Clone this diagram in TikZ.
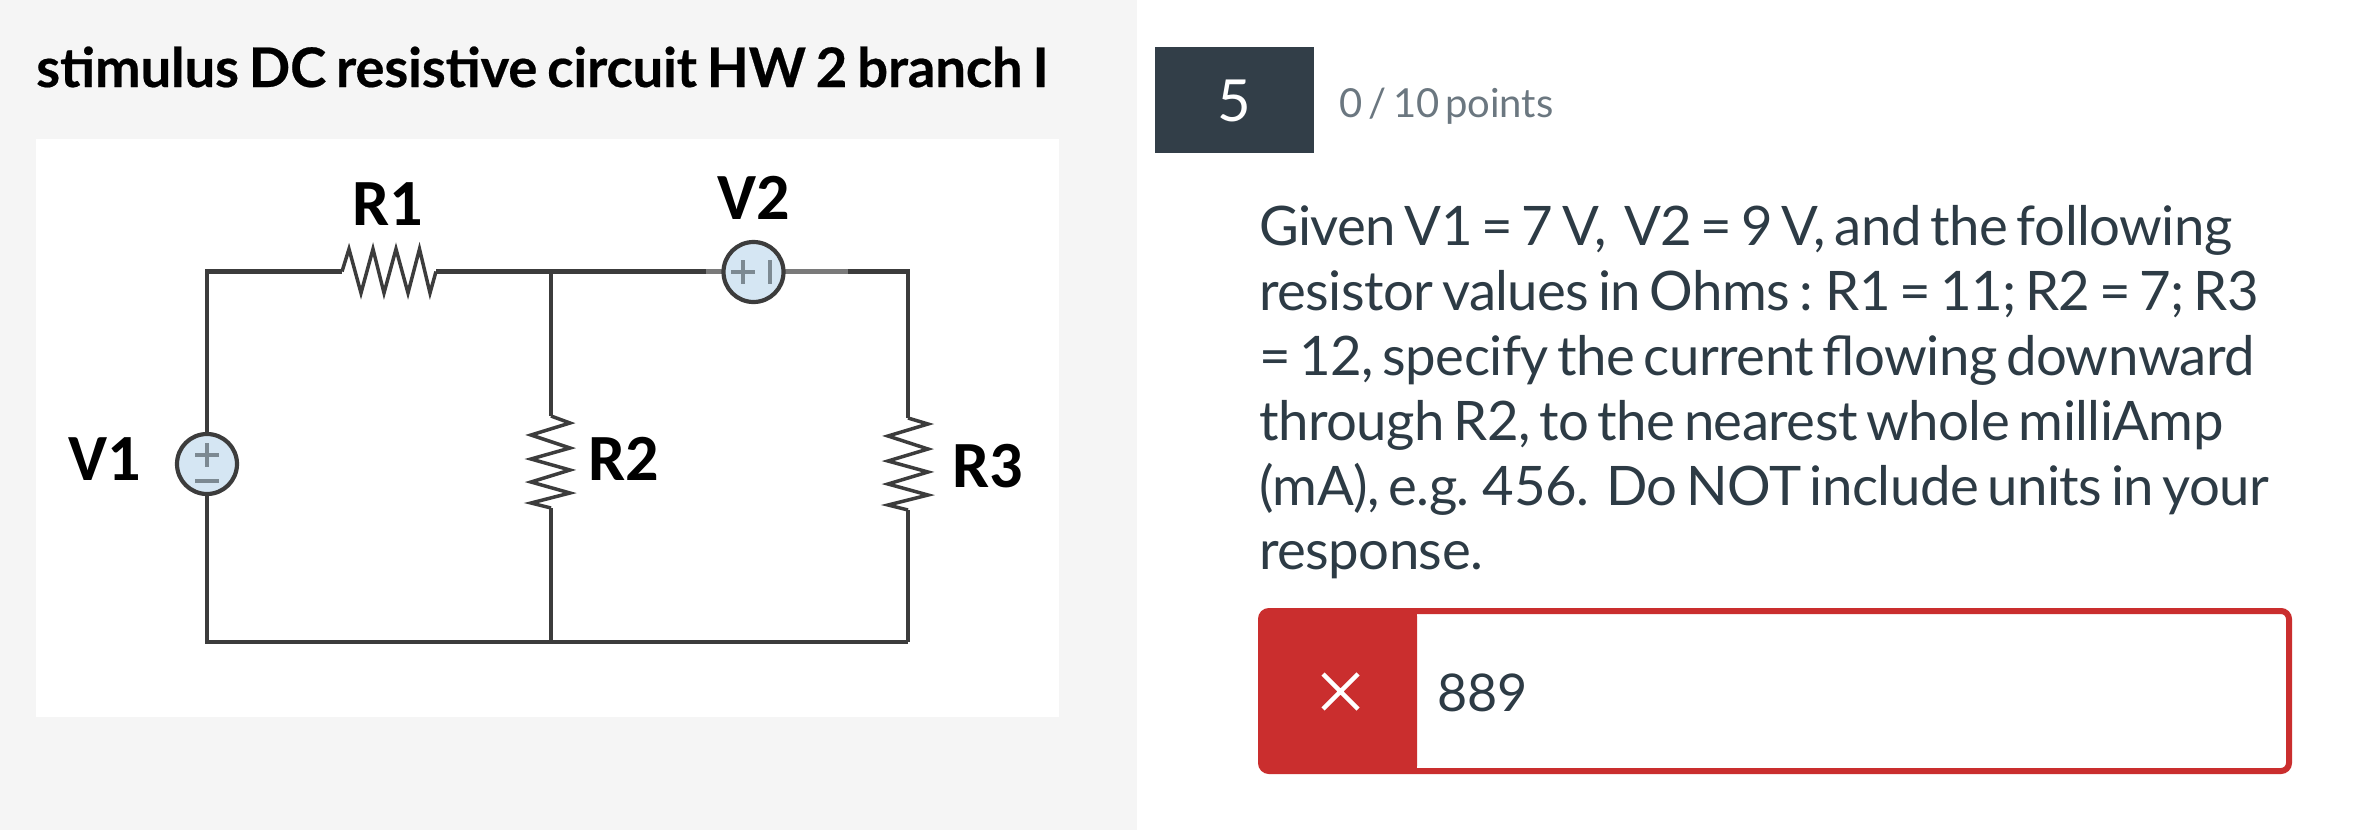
\documentclass[tikz,border=0pt]{standalone}
\usepackage{fontspec}
\setmainfont{Lato}
\newfontfamily\calib{Carlito}[Ligatures=TeX]
\newfontfamily\bodyf{Lato}[WordSpace=0.65,LetterSpace=-1.0]
\newfontfamily\titlef{Lato}[WordSpace=0.75,LetterSpace=-0.3,FakeBold=0.4]
\newfontfamily\ptsf{Lato}[WordSpace=0.6,LetterSpace=-0.3]
\definecolor{pagegray}{HTML}{F5F5F5}
\definecolor{ink}{HTML}{2D3B45}
\definecolor{boxdark}{HTML}{323E48}
\definecolor{muted}{HTML}{6B7780}
\definecolor{wrong}{HTML}{CA2E2E}
\definecolor{wire}{HTML}{3C3C3C}
\definecolor{wirelight}{HTML}{7A7A7A}
\definecolor{srcfill}{HTML}{D5E6F3}
\definecolor{srcmark}{HTML}{7C8992}
\tikzset{
  x=1pt,y=-1pt,
  wirest/.style={draw=wire,line width=4.5pt,line join=miter},
  zig/.style={draw=wire,line width=3.5pt,line join=miter},
  thinwire/.style={draw=wirelight,line width=4.5pt},
  src/.style={circle,draw=wire,fill=srcfill,line width=4.2pt,minimum size=60pt,inner sep=0pt},
  srcsign/.style={draw=srcmark,line width=3.5pt},
  clabel/.style={anchor=base,font=\calib\bfseries\fontsize{66}{66}\selectfont,text=black,inner sep=0pt},
  body/.style={anchor=base west,font=\bodyf\fontsize{54.5}{64}\selectfont,text=ink,inner sep=0pt},
}
\begin{document}
\begin{tikzpicture}
\useasboundingbox (0,0) rectangle (2358,830);
% backgrounds
\fill[white] (0,0) rectangle (2358,830);
\fill[pagegray] (0,0) rectangle (1137,830);
\fill[white] (36,139) rectangle (1059,717);
% title
\node[anchor=base west,inner sep=0pt,font=\titlef\bfseries\fontsize{54.5}{60}\selectfont,text=black] (title) at (36,87) {stimulus DC resistive circuit HW 2 branch I};
% corners and junctions
\coordinate (tl) at (207,271.5);
\coordinate (tm) at (551,271.5);
\coordinate (tr) at (908,271.5);
\coordinate (bl) at (207,642);
\coordinate (bm) at (551,642);
\coordinate (br) at (908,642);
\coordinate (r1a) at (342,271.5);
\coordinate (r1b) at (436,271.5);
\coordinate (r2a) at (551,416);
\coordinate (r2b) at (551,508);
\coordinate (r3a) at (908,418);
\coordinate (r3b) at (908,510);
\coordinate (v2la) at (706,271.5);
\coordinate (v2ra) at (848,271.5);
% wires
\draw[wirest] (207,434) -- (tl) -- (r1a);
\draw[wirest] (r1b) -- (tm) -- (v2la);
\draw[thinwire] (v2la) -- (753.5,271.5);
\draw[thinwire] (753.5,271.5) -- (v2ra);
\draw[wirest] (v2ra) -- (tr) -- (r3a);
\draw[wirest] (tm) -- (r2a);
\draw[wirest] (r2b) -- (bm);
\draw[wirest] (r3b) -- (br);
\draw[wirest] (207,494) -- (bl) -- (br);
% sources
\node[src] (v1) at (207,464) {};
\node[src] (v2) at (753.5,272) {};
% resistors
\draw[zig] (r1a) -- (349,249) -- (361,293) -- (373,249) -- (384,293) -- (396,249) -- (408,293) -- (419.5,249) -- (430,293) -- (r1b);
\draw[zig] (r2a) -- (570,423) -- (531,435) -- (570,448) -- (531,459) -- (570,470) -- (531,482) -- (570,493) -- (531,503) -- (r2b);
\draw[zig] (r3a) -- (928,424) -- (888,436) -- (928,449) -- (888,461) -- (928,472) -- (888,484) -- (928,495) -- (888,505) -- (r3b);
% source signs
\draw[srcsign] (207,443) -- (207,467) (195,455) -- (219,455);
\draw[srcsign] (195,481) -- (219,481);
\draw[srcsign] (743,260) -- (743,284) (731,272) -- (755,272);
\draw[srcsign] (770,260) -- (770,284);
% circuit labels
\node[clabel] (lr1) at (388,225) {R1};
\node[clabel] (lv2) at (754,219) {V2};
\node[clabel] (lv1) at (105,480.5) {V1};
\node[clabel] (lr2) at (624,480.5) {R2};
\node[clabel] (lr3) at (988,487) {R3};
% question header
\node[fill=boxdark,minimum width=159pt,minimum height=106pt,inner sep=0pt,anchor=north west] (numbox) at (1155,47) {};
\node[anchor=base,inner sep=0pt,text=white,font=\fontsize{58}{60}\selectfont] (num) at (1234,121) {5};
\node[anchor=base west,inner sep=0pt,text=muted,font=\ptsf\fontsize{40}{48}\selectfont] (pts) at (1339.5,117) {0 / 10 points};
% body
\node[body] (l1) at (1259,245) {Given V1 = 7 V,\ \ V2 = 9 V, and the following};
\node[body] (l2) at (1259,310) {resistor values in Ohms : R1 = 11; R2 = 7; R3};
\node[body] (l3) at (1259,375) {= 12, specify the current flowing downward};
\node[body] (l4) at (1259,440) {through R2, to the nearest whole milliAmp};
\node[body] (l5) at (1259,505) {(mA), e.g. 456.\ \ Do NOT include units in your};
\node[body] (l6) at (1259,569) {response.};
% answer
\draw[wrong,fill=white,line width=6pt,rounded corners=8pt] (1261,611) rectangle (2289,771);
\fill[wrong,rounded corners=5pt] (1261,611) rectangle (1417,771);
\fill[wrong] (1300,611) rectangle (1417,771);
\draw[white,line width=4.5pt] (1323,674) -- (1358,709) (1358,674) -- (1323,709);
\node[anchor=base west,inner sep=0pt,text=ink,font=\fontsize{52}{60}\selectfont] (ans) at (1437,711) {889};
\end{tikzpicture}
\end{document}
